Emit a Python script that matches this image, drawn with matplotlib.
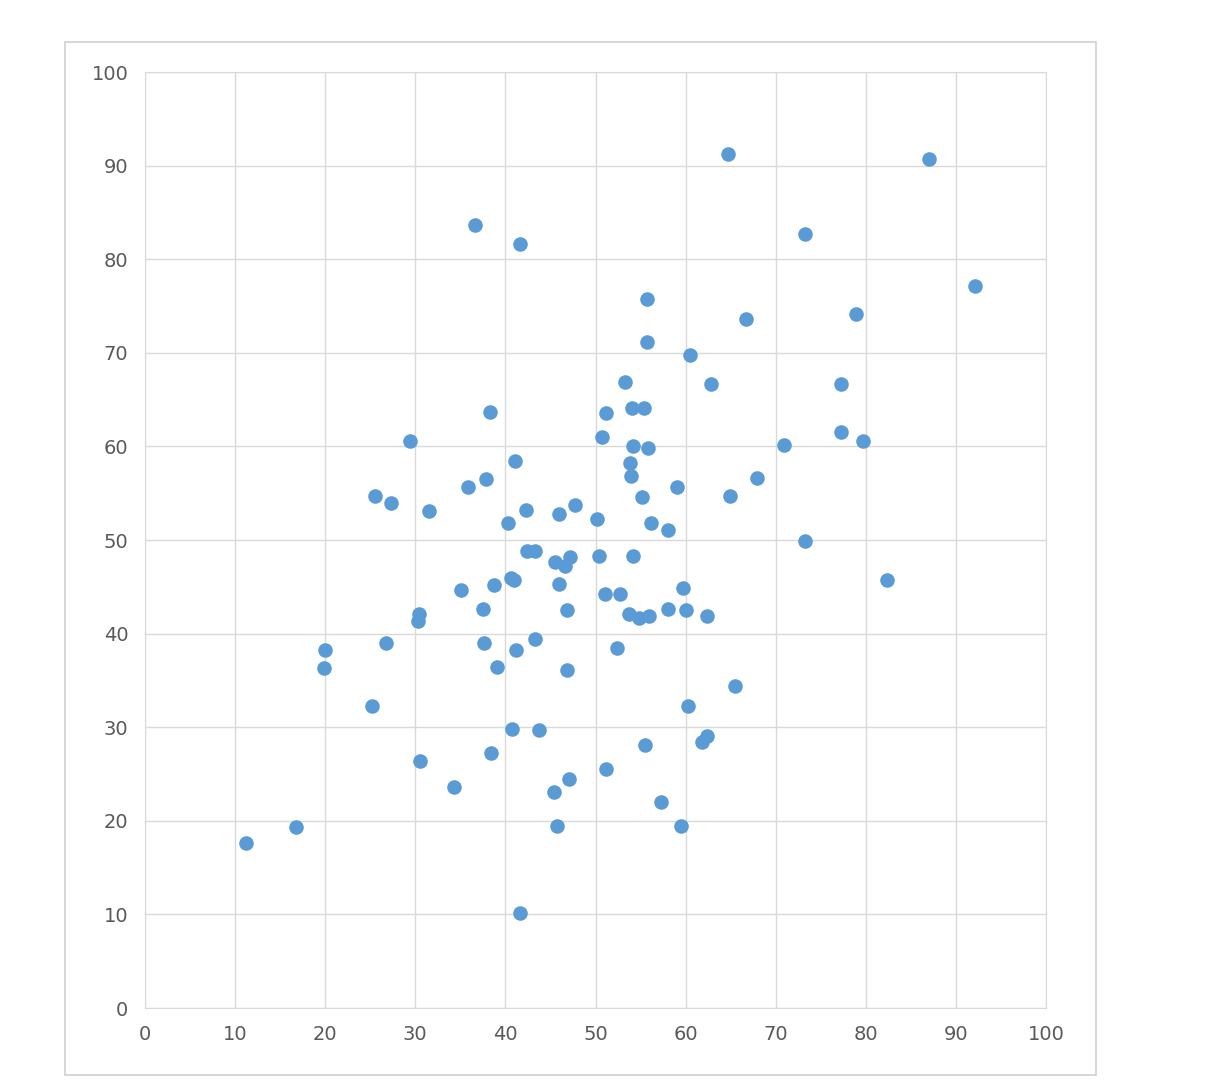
import matplotlib
matplotlib.use("Agg")
import matplotlib.pyplot as plt
from matplotlib.patches import Rectangle

x = [11.2,16.8,20.0,19.9,25.2,25.5,27.3,26.7,29.4,30.4,30.3,30.5,31.5,34.3,35.1,35.9,36.6,37.5,37.6,37.9,
     38.3,38.4,38.7,39.1,40.3,40.6,40.9,41.1,41.2,40.7,41.6,41.6,42.3,42.4,43.3,43.3,43.7,45.5,45.4,45.7,
     45.9,45.9,46.6,46.8,46.8,47.1,47.2,47.7,50.2,50.4,50.7,51.1,51.2,51.2,52.4,52.7,53.3,53.7,53.8,53.9,
     54.0,54.2,54.2,54.8,55.2,55.4,55.5,55.7,55.7,55.8,55.9,56.2,57.3,58.0,58.0,59.0,59.5,59.7,60.0,60.3,
     60.5,61.8,62.4,62.4,62.8,64.7,64.9,65.5,66.7,67.9,70.9,73.3,73.3,77.2,77.2,78.9,79.7,82.4,87.0,92.1]
y = [17.6,19.3,38.2,36.3,32.3,54.7,54.0,39.0,60.6,42.1,41.3,26.4,53.1,23.6,44.7,55.7,83.7,42.6,39.0,56.5,
     63.7,27.2,45.2,36.4,51.8,45.9,45.7,58.4,38.2,29.8,81.6,10.1,53.2,48.8,48.8,39.4,29.7,47.6,23.1,19.4,
     52.8,45.3,47.2,42.5,36.1,24.5,48.2,53.7,52.2,48.3,61.0,44.2,25.5,63.6,38.5,44.2,66.9,42.1,58.2,56.8,
     64.1,60.0,48.3,41.7,54.6,64.1,28.1,75.7,71.2,59.8,41.9,51.8,22.0,42.6,51.1,55.7,19.4,44.9,42.5,32.3,
     69.8,28.4,29.1,41.9,66.7,91.2,54.7,34.4,73.6,56.6,60.1,82.7,49.9,66.7,61.5,74.1,60.6,45.7,90.7,77.1]
ticks = list(range(0, 101, 10))

W, H = 1211, 1080
fig = plt.figure(figsize=(W/100, H/100), dpi=100)
fig.patches.append(Rectangle((65/W, 1-1075/H), (1096-65)/W, (1075-42)/H,
                             transform=fig.transFigure, fill=False, ec="#d0d0d0", lw=1.2))
ax = fig.add_axes([145/W, 1-1008/H, (1046-145)/W, (1008-72)/H])
ax.scatter(x, y, s=110, color="#5B9BD5", zorder=3, linewidths=0)
ax.set_xlim(0, 100); ax.set_ylim(0, 100)
ax.set_xticks(ticks); ax.set_yticks(ticks)
ax.grid(True, color="#d9d9d9", lw=1)
for s in ax.spines.values():
    s.set_color("#d9d9d9")
ax.tick_params(length=0, labelsize=14, colors="#595959", pad=12)
plt.savefig("out.png", dpi=100)
